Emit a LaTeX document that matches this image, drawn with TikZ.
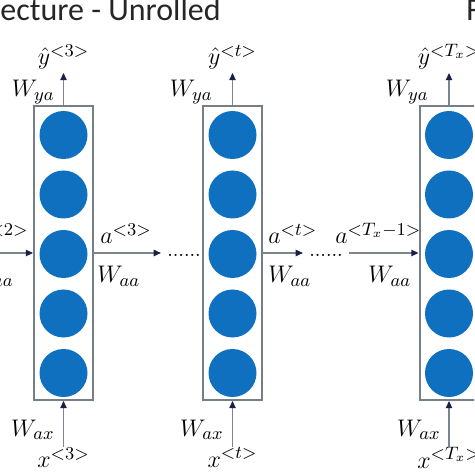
\documentclass[tikz,border=0pt]{standalone}
\usepackage{fontspec}
\setsansfont{Carlito}
\usetikzlibrary{arrows.meta,positioning}

\definecolor{cellblue}{RGB}{14,112,190}
\definecolor{boxgray}{RGB}{118,126,134}
\definecolor{wiregray}{RGB}{125,132,140}
\definecolor{tipnavy}{RGB}{22,32,72}

\tikzset{
  cell/.style={draw=boxgray, line width=1pt, minimum width=29.5pt, minimum height=147pt, inner sep=0pt},
  unit/.style={circle, fill=cellblue, minimum size=24pt, inner sep=0pt},
  link/.style={draw=wiregray, line width=0.6pt, -{Triangle[length=3.6pt,width=3.2pt,color=tipnavy]}},
  lbl/.style={inner sep=0pt, font=\fontsize{12.5}{15}\selectfont},
  dots/.style={inner sep=0pt, font=\fontsize{10}{12}\selectfont},
  title/.style={inner sep=0pt, text=black!85, font=\fontsize{16}{19}\selectfont\sffamily}
}

\begin{document}
\begin{tikzpicture}[x=0.5pt,y=-0.5pt]
\useasboundingbox (0,0) rectangle (474,474);
\clip (0,0) rectangle (474,474);

% Title (cut at both sides)
\node[title, anchor=base west] (head) at (0,21) {ecture - Unrolled};
\node[title, anchor=base west] (headR) at (466,21) {F};

% Cells with their hidden units
\foreach \n/\xc in {1/63.5,2/232.5,3/449}{
  \node[cell] (cell\n) at (\xc,253) {};
  \foreach \k in {1,...,5}
    \node[unit] (u\n\k) at (\xc,{75.5+59.5*\k}) {};
}

% Outputs
\node[lbl, anchor=south] (yhat1) at (63.5,70) {$\hat{y}^{<3>}$};
\node[lbl, anchor=south] (yhat2) at (232.5,70) {$\hat{y}^{<t>}$};
\node[lbl, anchor=south] (yhat3) at (449,70) {$\hat{y}^{<T_x>}$};
\foreach \n in {1,2,3}
  \draw[link, shorten >=1.5pt] (cell\n.north) -- (yhat\n.south);

\node[lbl, anchor=base east] (wya1) at (55,97) {$W_{ya}$};
\node[lbl, anchor=base east] (wya2) at (213,97) {$W_{ya}$};
\node[lbl, anchor=base east] (wya3) at (429,97) {$W_{ya}$};

% Inputs
\node[lbl, anchor=north] (xin1) at (63.5,447) {$x^{<3>}$};
\node[lbl, anchor=north] (xin2) at (232.5,447) {$x^{<t>}$};
\node[lbl, anchor=north] (xin3) at (449,447) {$x^{<T_x>}$};
\foreach \n in {1,2,3}
  \draw[link] (xin\n.north) -- (cell\n.south);

\node[lbl, anchor=base east] (wax1) at (55,436) {$W_{ax}$};
\node[lbl, anchor=base east] (wax2) at (224,436) {$W_{ax}$};
\node[lbl, anchor=base east] (wax3) at (441,436) {$W_{ax}$};

% Hidden state chain
\coordinate (ain) at (-10,253);
\draw[link] (ain) -- (cell1.west);
\node[lbl, anchor=base east] (a2) at (29,244) {$a^{<2>}$};
\node[lbl, anchor=north east] (waa0) at (14,266) {$W_{aa}$};

\node[dots, anchor=base] (dotsA) at (184,257) {......};
\node[dots, anchor=base] (dotsB) at (326,257) {......};
\draw[link, shorten >=3pt] (cell1.east) -- (dotsA.west |- cell1.east);
\draw[link, shorten >=3pt] (cell2.east) -- (dotsB.west |- cell2.east);
\draw[link, shorten <=3pt] (dotsB.east |- cell3.west) -- (cell3.west);

\node[lbl, anchor=base west] (a3) at (100,244) {$a^{<3>}$};
\node[lbl, anchor=north west] (waa1) at (97,266) {$W_{aa}$};
\node[lbl, anchor=base west] (at) at (268,244) {$a^{<t>}$};
\node[lbl, anchor=north west] (waa2) at (268,266) {$W_{aa}$};
\node[lbl, anchor=base west] (aT) at (335,244) {$a^{<T_x-1>}$};
\node[lbl, anchor=north west] (waa3) at (368,266) {$W_{aa}$};

\end{tikzpicture}
\end{document}
